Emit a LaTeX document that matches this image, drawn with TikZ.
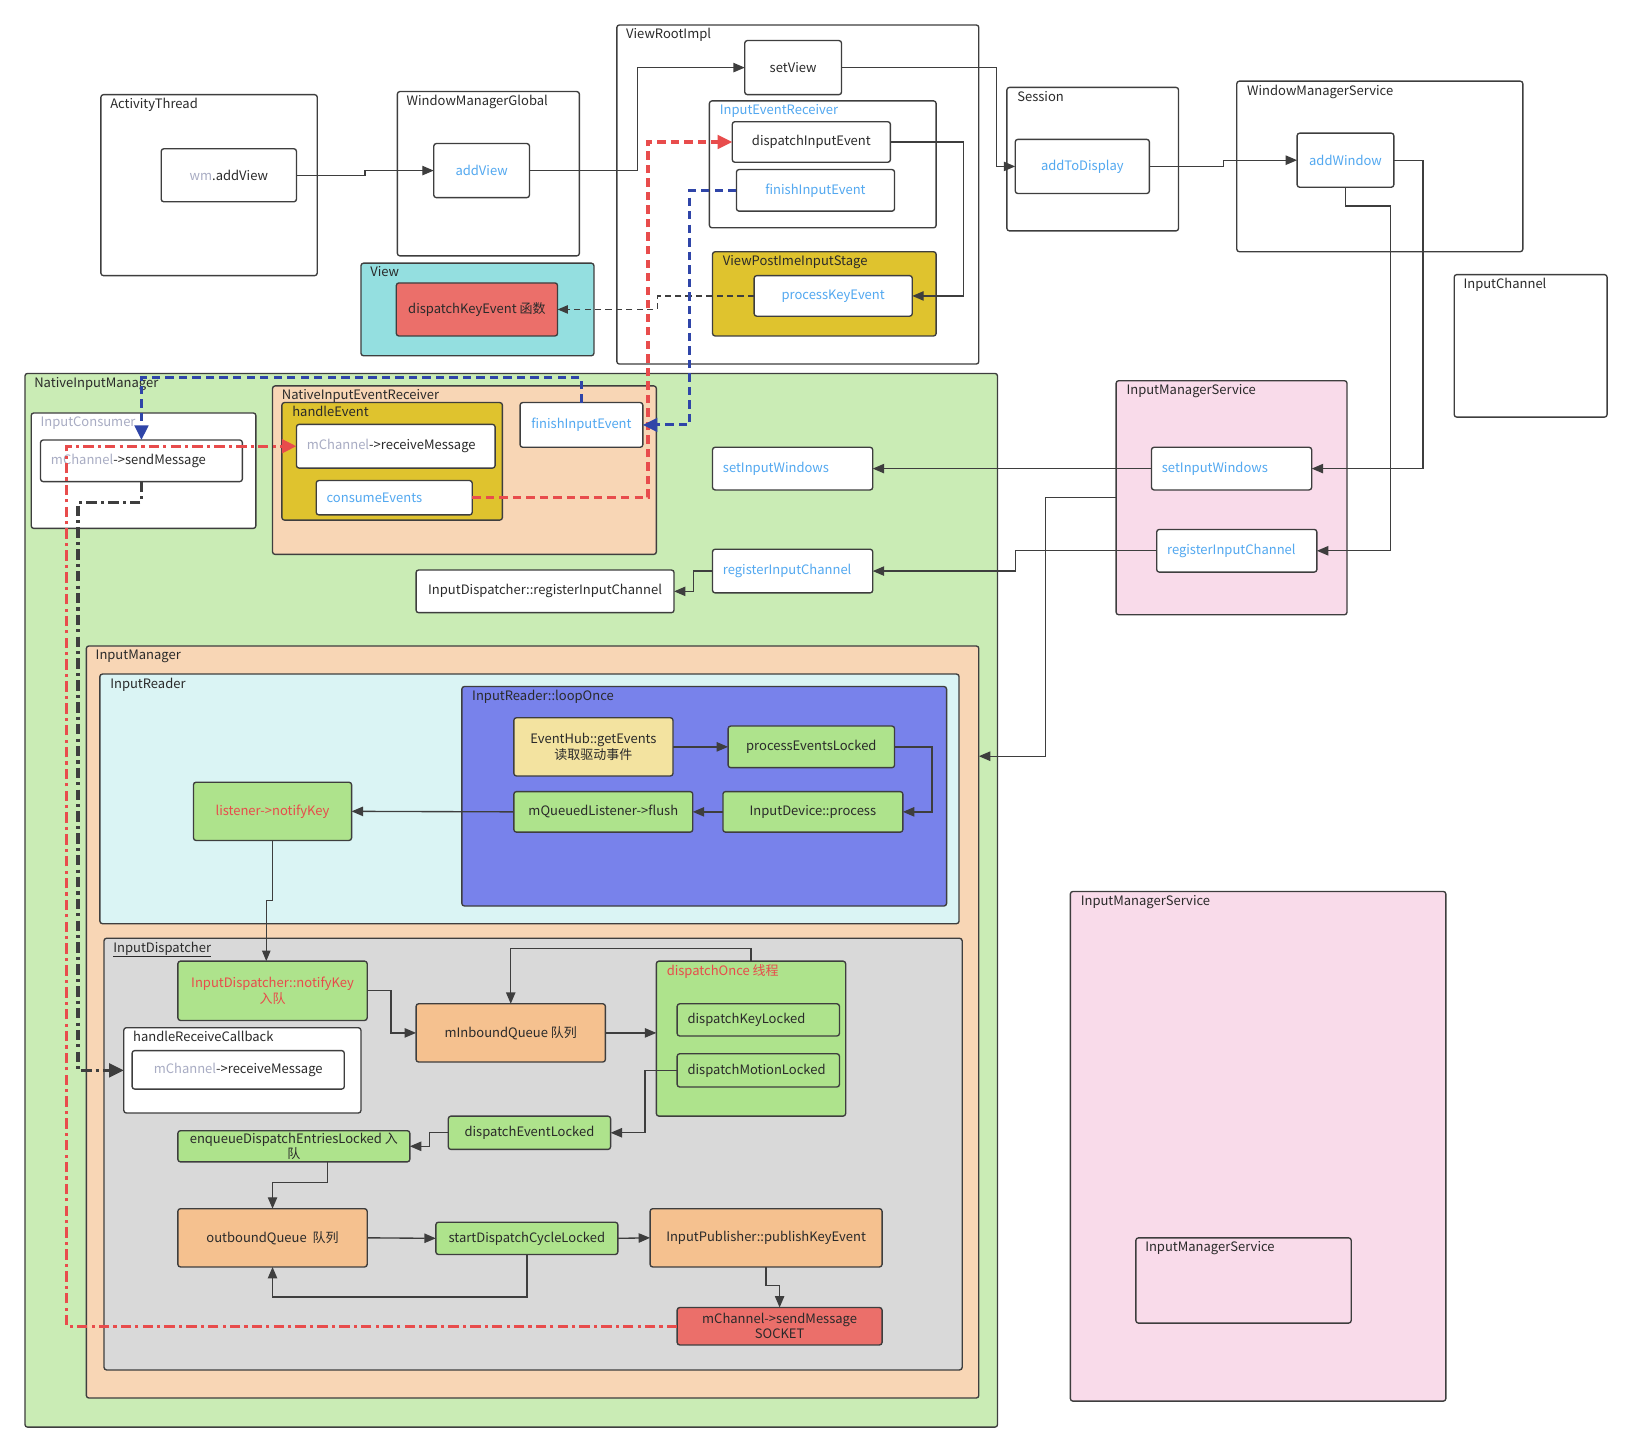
\documentclass[tikz,border=0pt]{standalone}
\usepackage{fontspec}
\setmainfont{Noto Sans CJK SC}
\usetikzlibrary{arrows.meta}
\definecolor{bd}{HTML}{3E3E3E}
\definecolor{grn}{HTML}{CAECB5}
\definecolor{peach}{HTML}{F8D6B5}
\definecolor{cyanbg}{HTML}{DAF4F4}
\definecolor{loop}{HTML}{7882EB}
\definecolor{gn}{HTML}{AEE38C}
\definecolor{pyl}{HTML}{F3E3A0}
\definecolor{org}{HTML}{F5C18F}
\definecolor{rednd}{HTML}{EB6F6A}
\definecolor{tealbg}{HTML}{94DFE0}
\definecolor{ylw}{HTML}{DFC32E}
\definecolor{pinkbg}{HTML}{F9DBEA}
\definecolor{gry}{HTML}{D9D9D9}
\definecolor{btx}{HTML}{52A8F0}
\definecolor{gtx}{HTML}{A8ACC3}
\definecolor{rtx}{HTML}{E84B4B}
\definecolor{tx}{HTML}{2A2A2A}
\definecolor{dred}{HTML}{E84C4C}
\definecolor{dblue}{HTML}{2F45A8}
\newcommand\bx[7]{\node[#2, anchor=north west, minimum width={#5-#3}, minimum height={#6-#4}] (#1) at (#3,#4) {#7};}
\newcommand\bxl[7]{\pgfmathsetmacro\mytw{#5-#3-20}\node[#2, anchor=north west, minimum height={#6-#4}, text width=\mytw pt, inner xsep=10pt, align=left] (#1) at (#3,#4) {#7};}
\newcommand\lb[4]{\node[lbl, #4] (#1) at (#2) {#3};}
\begin{document}
\begin{tikzpicture}[x=1pt,y=-1pt,
  every node/.style={font=\fontsize{12.5}{14.5}\selectfont, text=tx},
  cont/.style={draw=bd, line width=1.3pt, rounded corners=2.5pt, fill=white, inner sep=0pt, outer sep=0pt},
  nd/.style={draw=bd, line width=1.3pt, rounded corners=2.5pt, fill=white, align=center, inner sep=2pt, outer sep=0pt},
  lbl/.style={anchor=north west, inner sep=0pt, outer sep=0pt, yshift=-1.5pt},
  arr/.style={draw=bd, line width=1.3pt, -{Triangle[length=11pt,width=9pt]}},
  thinarr/.style={draw=bd, line width=1pt, -{Triangle[length=10pt,width=8pt]}},
  dsh/.style={draw=bd, line width=1.4pt, dash pattern=on 6pt off 4pt, -{Triangle[length=10pt,width=8pt]}},
  rdsh/.style={draw=dred, line width=3pt, dash pattern=on 8pt off 5pt, -{Triangle[length=14pt,width=13pt]}},
  bdsh/.style={draw=dblue, line width=3pt, dash pattern=on 8pt off 5pt, -{Triangle[length=14pt,width=13pt]}},
  rdd/.style={draw=dred, line width=3pt, dash pattern=on 10pt off 4pt on 3pt off 4pt, -{Triangle[length=14pt,width=13pt]}},
  kdd/.style={draw=bd, line width=3pt, dash pattern=on 10pt off 4pt on 3pt off 4pt, -{Triangle[length=14pt,width=13pt]}},
]
\useasboundingbox (0,0) rectangle (1568,1397);
% ---------- top row ----------
\bx{at}{cont}{97}{91}{305}{265}{}
\lb{atL}{106,93}{ActivityThread}{}
\bx{wmadd}{nd}{155}{143}{285}{194}{{\color{gtx}wm}.addView}

\bx{wmg}{cont}{382}{88}{557}{246}{}
\lb{wmgL}{391,90}{WindowManagerGlobal}{}
\bx{addview}{nd}{417}{138}{509}{190}{\color{btx}addView}

\bx{vri}{cont}{593}{24}{941}{350}{}
\lb{vriL}{602,26}{ViewRootImpl}{}
\bx{setview}{nd}{716}{39}{809}{91}{setView}
\bx{ier}{cont}{682}{97}{900}{219}{}
\lb{ierL}{692,99}{InputEventReceiver}{text=btx}
\bx{die}{nd}{704}{117}{856}{156}{dispatchInputEvent}
\bx{fie}{nd}{708}{163}{860}{203}{\color{btx}finishInputEvent}
\bx{vpis}{cont, fill=ylw}{685}{242}{900}{323}{}
\lb{vpisL}{695,244}{ViewPostImeInputStage}{}
\bx{pke}{nd}{725}{265}{877}{304}{\color{btx}processKeyEvent}

\bx{view}{cont, fill=tealbg}{347}{253}{571}{342}{}
\lb{viewL}{356,255}{View}{}
\bx{dke}{nd, fill=rednd}{381}{272}{536}{323}{dispatchKeyEvent 函数}

\bx{sess}{cont}{968}{84}{1133}{222}{}
\lb{sessL}{978,86}{Session}{}
\bx{atd}{nd}{976}{134}{1105}{186}{\color{btx}addToDisplay}

\bx{wms}{cont}{1189}{78}{1464}{242}{}
\lb{wmsL}{1199,80}{WindowManagerService}{}
\bx{aw}{nd}{1247}{128}{1340}{180}{\color{btx}addWindow}

\bx{ich}{cont}{1398}{264}{1545}{401}{}
\lb{ichL}{1407,266}{InputChannel}{}

\bx{ims}{cont, fill=pinkbg}{1073}{366}{1295}{591}{}
\lb{imsL}{1083,368}{InputManagerService}{}
\bxl{siwR}{nd}{1107}{430}{1261}{471}{\color{btx}setInputWindows}
\bxl{ricR}{nd}{1112}{509}{1266}{550}{\color{btx}registerInputChannel}

% ---------- NativeInputManager ----------
\bx{nim}{cont, fill=grn}{24}{359}{959}{1372}{}
\lb{nimL}{33,361}{NativeInputManager}{}
\bx{icons}{cont}{30}{397}{246}{508}{}
\lb{iconsL}{39,399}{InputConsumer}{text=gtx}
\bxl{sendm}{nd}{39}{423}{233}{463}{{\color{gtx}mChannel}->sendMessage}
\bx{nier}{cont, fill=peach}{262}{371}{631}{533}{}
\lb{nierL}{271,373}{NativeInputEventReceiver}{}
\bx{he}{cont, fill=ylw}{271}{387}{483}{500}{}
\lb{heL}{281,389}{handleEvent}{}
\bxl{recvm}{nd}{285}{408}{476}{450}{{\color{gtx}mChannel}->receiveMessage}
\bxl{ce}{nd}{304}{462}{454}{495}{\color{btx}consumeEvents}
\bx{fieN}{nd}{500}{387}{618}{430}{\color{btx}finishInputEvent}
\bxl{siwL}{nd}{685}{430}{839}{471}{\color{btx}setInputWindows}
\bxl{ricL}{nd}{685}{528}{839}{570}{\color{btx}registerInputChannel}
\bx{idric}{nd}{400}{548}{648}{589}{InputDispatcher::registerInputChannel}

% ---------- InputManager ----------
\bx{im}{cont, fill=peach}{83}{621}{941}{1344}{}
\lb{imL}{92,623}{InputManager}{}
\bx{ir}{cont, fill=cyanbg}{96}{648}{922}{888}{}
\lb{irL}{106,650}{InputReader}{}
\bx{lo}{cont, fill=loop}{444}{660}{910}{871}{}
\lb{loL}{454,662}{InputReader::loopOnce}{}
\bx{geh}{nd, fill=pyl}{494}{690}{647}{746}{EventHub::getEvents\\读取驱动事件}
\bx{pel}{nd, fill=gn}{700}{698}{860}{738}{processEventsLocked}
\bx{idp}{nd, fill=gn}{695}{761}{868}{800}{InputDevice::process}
\bx{mql}{nd, fill=gn}{494}{761}{666}{800}{mQueuedListener->flush}
\bx{lnk}{nd, fill=gn, text=rtx}{186}{752}{338}{808}{listener->notifyKey}

\bx{idisp}{cont, fill=gry}{100}{902}{925}{1317}{}
\lb{idispL}{109,904}{\underline{InputDispatcher}}{}
\bx{idnk}{nd, fill=gn, text=rtx}{171}{924}{353}{981}{InputDispatcher::notifyKey\\入队}
\bx{miq}{nd, fill=org}{400}{965}{582}{1021}{mInboundQueue 队列}
\bx{donce}{cont, fill=gn}{631}{924}{813}{1073}{}
\lb{donceL}{641,926}{dispatchOnce 线程}{text=rtx}
\bxl{dkl}{nd, fill=gn}{651}{965}{807}{996}{dispatchKeyLocked}
\bxl{dml}{nd, fill=gn}{651}{1013}{807}{1045}{dispatchMotionLocked}
\bx{hrc}{cont}{119}{988}{347}{1070}{}
\lb{hrcL}{128,990}{handleReceiveCallback}{}
\bx{recv2}{nd}{127}{1010}{331}{1047}{{\color{gtx}mChannel}->receiveMessage}
\bx{del}{nd, fill=gn}{431}{1073}{587}{1105}{dispatchEventLocked}
\bx{ede}{nd, fill=gn, font=\fontsize{12.5}{13}\selectfont}{171}{1087}{394}{1117}{enqueueDispatchEntriesLocked 入\\队}
\bx{obq}{nd, fill=org}{171}{1162}{353}{1218}{outboundQueue\ \ 队列}
\bx{sdc}{nd, fill=gn}{419}{1175}{594}{1206}{startDispatchCycleLocked}
\bx{ipp}{nd, fill=org}{625}{1162}{848}{1218}{InputPublisher::publishKeyEvent}
\bx{smS}{nd, fill=rednd}{651}{1257}{848}{1293}{mChannel->sendMessage\\SOCKET}

% ---------- lower right ----------
\bx{ims2}{cont, fill=pinkbg}{1029}{857}{1390}{1347}{}
\lb{ims2L}{1039,859}{InputManagerService}{}
\bx{ims3}{cont, fill=pinkbg}{1092}{1190}{1299}{1272}{}
\lb{ims3L}{1101,1192}{InputManagerService}{}

% ---------- solid connectors ----------
\draw[arr] (wmadd.east) -| (351,164) -- (addview.west);
\draw[arr] (addview.east) -| (613,65) -- (setview.west);
\draw[arr] (setview.east) -| (958,160) -- (atd.west);
\draw[arr] (atd.east) -| (1176,154) -- (aw.west);
\draw[arr] (aw.east) -| (1368,450.5) -- (siwR.east);
\draw[arr] (aw.south) -- ++(0,18) -| (1337,529.5) -- (ricR.east);
\draw[arr] (siwR.west) -- (siwL.east);
\draw[arr] (ricR.west) -| (976,549) -- (ricL.east);
\coordinate (imIn) at (941,727);
\draw[arr] (ims.west) -| (1005,727) -- (imIn);
\draw[arr] (ricL.west) -| (667,568.5) -- (idric.east);
\draw[arr] (die.east) -| (926,284.5) -- (pke.east);
\draw[dsh] (pke.west) -| (632,297.5) -- (dke.east);
\draw[arr] (geh.east) -- (pel.west);
\draw[arr] (pel.east) -| (896,780.5) -- (idp.east);
\draw[arr] (idp.west) -- (mql.east);
\draw[arr] (mql.west) -- (lnk.east);
\draw[thinarr] (lnk.south) |- (256,866) -- ([xshift=-6pt]idnk.north);
\draw[arr] (idnk.east) -| (376,993) -- (miq.west);
\draw[arr] (miq.east) -- (miq.east -| donce.west);
\draw[arr] (donce.north) -- ++(0,-12) -| (miq.north);
\draw[arr] (dml.west) -| (620,1089) -- (del.east);
\draw[arr] (del.west) -| (413,1102) -- (ede.east);
\draw[arr] ([xshift=32.5pt]ede.south) -- ++(0,20) -| (obq.north);
\draw[arr] (obq.east) -- (sdc.west);
\draw[arr] (sdc.east) -- (ipp.west);
\draw[arr] (sdc.south) -- ++(0,41) -| (obq.south);
\draw[arr] (ipp.south) -- ++(0,18) -| (smS.north);

% ---------- dashed connectors ----------
\draw[rdsh] (ce.east) -| (623,136.5) -- (die.west);
\draw[bdsh] (fie.west) -| (663,408.5) -- (fieN.east);
\draw[bdsh] (fieN.north) |- (136,363) -- (sendm.north);
\draw[rdd] (smS.west) -| (64,429) -- (recvm.west);
\draw[kdd] (sendm.south) -- ++(0,20) -| (75,1029) -- (hrc.west);
\end{tikzpicture}
\end{document}
